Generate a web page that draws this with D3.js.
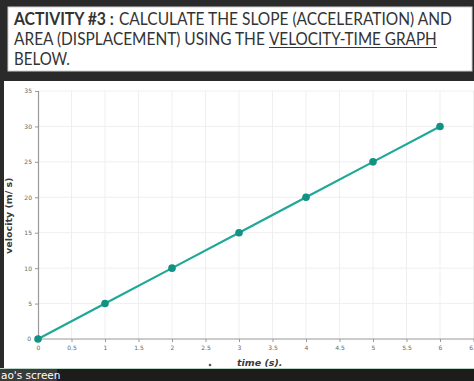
<!DOCTYPE html>
<html><head><meta charset="utf-8">
<script src="https://cdn.jsdelivr.net/npm/d3@7"></script>
<style>html,body{margin:0;padding:0;background:#2a2a2a;overflow:hidden;}</style>
</head><body>
<script>
const timeValues = [0, 1, 2, 3, 4, 5, 6];
const velocityValues = [0, 5, 10, 15, 20, 25, 30];
const xTickValues = [0, 0.5, 1, 1.5, 2, 2.5, 3, 3.5, 4, 4.5, 5, 5.5, 6, 6.5];
const yTickValues = [0, 5, 10, 15, 20, 25, 30, 35];
const titleParts = [
  {t: "ACTIVITY #3 :", b: true, line: 0},
  {t: "CALCULATE THE SLOPE (ACCELERATION) AND", line: 0},
  {t: "AREA (DISPLACEMENT) USING THE", line: 1},
  {t: "VELOCITY-TIME GRAPH", u: true, line: 1},
  {t: "BELOW.", line: 2}
];

const W = 474, H = 381;
const svg = d3.select("body").append("svg").attr("width", W).attr("height", H);
svg.append("rect").attr("width", W).attr("height", H).attr("fill", "#2a2a2a");

// title box
svg.append("rect").attr("x", 8).attr("y", 7).attr("width", 464).attr("height", 64)
  .attr("fill", "#ffffff").attr("stroke", "#cfcfcf").attr("stroke-width", 1);
const lineY = [25, 45, 65];
const partX = [14, 119, 14, 269, 14];
const partLen = [100, 333, 251, 168, 56];
titleParts.forEach((p, i) => {
  const t = svg.append("text").attr("x", 0).attr("y", 0)
    .attr("font-family", "Lato, 'Open Sans', sans-serif").attr("font-size", 17)
    .attr("font-weight", p.b ? "bold" : "normal")
    .attr("fill", "#333")
    .text(p.t);
  const w = t.node().getComputedTextLength();
  t.attr("transform", `translate(${partX[i]},${lineY[p.line]}) scale(${partLen[i] / w},1)`);
  if (p.u) {
    svg.append("line").attr("x1", partX[i]).attr("x2", partX[i] + partLen[i])
      .attr("y1", lineY[p.line] + 2.5).attr("y2", lineY[p.line] + 2.5)
      .attr("stroke", "#333").attr("stroke-width", 1.2);
  }
});

// plot background
svg.append("rect").attr("x", 4).attr("y", 81).attr("width", W - 4).attr("height", 287).attr("fill", "#ffffff");

const x = d3.scaleLinear().domain([0, 6]).range([38, 440]);
const y = d3.scaleLinear().domain([0, 35]).range([339, 91]);

// grid
const g = svg.append("g");
g.selectAll(".vg").data(xTickValues.filter(d => d > 0)).join("line")
  .attr("x1", d => x(d)).attr("x2", d => x(d)).attr("y1", y(35)).attr("y2", y(0))
  .attr("stroke", "#efefef").attr("stroke-width", 1);
g.selectAll(".hg").data(yTickValues.filter(d => d > 0)).join("line")
  .attr("x1", x(0)).attr("x2", W).attr("y1", d => y(d)).attr("y2", d => y(d))
  .attr("stroke", "#efefef").attr("stroke-width", 1);

// axes
const xAxis = d3.axisBottom(x).tickValues(xTickValues).tickSize(3).tickPadding(4)
  .tickFormat(d => d3.format("")(d));
const xa = svg.append("g").attr("transform", `translate(0,${y(0)})`).call(xAxis);
xa.select(".domain").attr("d", `M${x(0)},0H${W}`);
const yAxis = d3.axisLeft(y).tickValues(yTickValues).tickSize(3).tickPadding(3)
  .tickFormat(d => d === 0 ? "" : d);
const ya = svg.append("g").attr("transform", `translate(${x(0)},0)`).call(yAxis);
[xa, ya].forEach(a => {
  a.select(".domain").attr("stroke", "#999").attr("stroke-width", 1.2);
  a.selectAll(".tick line").attr("stroke", "#999");
  a.selectAll(".tick text").attr("fill", "#666").attr("font-size", 6)
    .attr("font-family", "'DejaVu Sans', sans-serif");
});
svg.append("text").attr("x", 31).attr("y", y(0) + 2).attr("text-anchor", "end")
  .attr("font-size", 6).attr("fill", "#666").attr("font-family", "'DejaVu Sans', sans-serif").text("0");

// axis labels
svg.append("text").attr("transform", `translate(12,${y(17.4)}) rotate(-90)`)
  .attr("text-anchor", "middle").attr("font-size", 9.5).attr("font-weight", "bold")
  .attr("fill", "#3a3a3a").attr("font-family", "'DejaVu Sans', sans-serif").text("velocity (m/ s)");
svg.append("text").attr("x", 237).attr("y", 366)
  .attr("font-size", 9.5).attr("font-weight", "bold").attr("font-style", "italic")
  .attr("fill", "#3a3a3a").attr("font-family", "'DejaVu Sans', sans-serif").text("time (s).");
svg.append("circle").attr("cx", 210).attr("cy", 365).attr("r", 1.3).attr("fill", "#555");

// data line and points
const data = timeValues.map((t, i) => ({t, v: velocityValues[i]}));
svg.append("path").datum(data)
  .attr("d", d3.line().x(d => x(d.t)).y(d => y(d.v)))
  .attr("fill", "none").attr("stroke", "#1fa898").attr("stroke-width", 2.2);
svg.selectAll(".pt").data(data).join("circle")
  .attr("cx", d => x(d.t)).attr("cy", d => y(d.v)).attr("r", 3.8)
  .attr("fill", "#129283");

// bottom bar
svg.append("rect").attr("x", 0).attr("y", 368).attr("width", W).attr("height", 13).attr("fill", "#1c1c1c");
svg.append("line").attr("x1", 0).attr("x2", W).attr("y1", 368.5).attr("y2", 368.5).attr("stroke", "#b9d6c6").attr("stroke-width", 1);
svg.append("rect").attr("x", 0).attr("y", 369).attr("width", 57).attr("height", 12).attr("fill", "#3a3a3a");
svg.append("text").attr("x", 1).attr("y", 379).attr("font-size", 10.5).attr("fill", "#fff")
  .attr("font-family", "'DejaVu Sans', sans-serif").text("ao's screen");
</script>
</body></html>
